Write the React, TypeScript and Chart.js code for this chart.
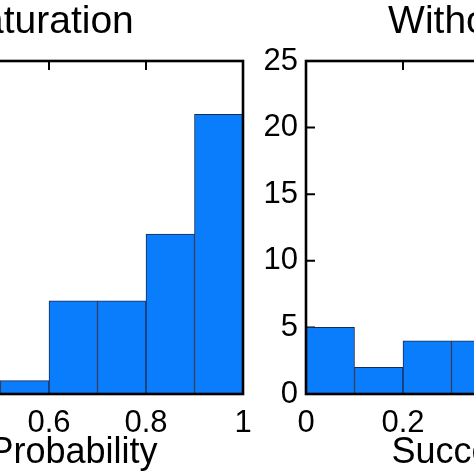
import React, { useEffect, useRef } from "react";
import { Chart, registerables } from "chart.js";

Chart.register(...registerables);

// ---- data ----
const binCenters = [0.05, 0.15, 0.25, 0.35, 0.45, 0.55, 0.65, 0.75, 0.85, 0.95];
// counts per bin (left panel bins below 0.5 are outside the visible crop)
const withSaturation = [0, 0, 0, 1, 1, 1, 7, 7, 12, 21];
// right panel bins above 0.4 are outside the visible crop
const withoutSaturation = [5, 2, 4, 4, 6, 5, 7, 6, 5, 6];
const xTickValues = [0, 0.2, 0.4, 0.6, 0.8, 1];
const xTickLabels = ["0", "0.2", "0.4", "0.6", "0.8", "1"];
const yTickValues = [0, 5, 10, 15, 20, 25];
const titles = ["With Saturation", "Without Saturation"];
const xAxisLabel = "Success Probability";
const yAxisLabel = "Count";

const FONT = "Arial, 'Liberation Sans', Helvetica, sans-serif";
const BAR_COLOR = "#0a7dfc";
const BAR_EDGE = "#1c2a50";

const decoPlugin = {
  id: "panelDeco",
  beforeDatasetsDraw(chart: any) {
    const { ctx, chartArea } = chart;
    const xs = chart.scales.x;
    const ys = chart.scales.y;
    const tl = 9;
    ctx.save();
    ctx.strokeStyle = "#000";
    ctx.lineWidth = 2;
    ctx.beginPath();
    xTickValues.forEach((v) => {
      const px = xs.getPixelForValue(v);
      ctx.moveTo(px, chartArea.top);
      ctx.lineTo(px, chartArea.top + tl);
      ctx.moveTo(px, chartArea.bottom);
      ctx.lineTo(px, chartArea.bottom - tl);
    });
    yTickValues.forEach((v) => {
      const py = ys.getPixelForValue(v);
      ctx.moveTo(chartArea.left, py);
      ctx.lineTo(chartArea.left + tl, py);
      ctx.moveTo(chartArea.right, py);
      ctx.lineTo(chartArea.right - tl, py);
    });
    ctx.stroke();
    ctx.restore();
  },
  afterDatasetsDraw(chart: any) {
    const { ctx, chartArea } = chart;
    ctx.save();
    ctx.strokeStyle = "#000";
    ctx.lineWidth = 2.6;
    ctx.strokeRect(
      chartArea.left,
      chartArea.top,
      chartArea.right - chartArea.left,
      chartArea.bottom - chartArea.top
    );
    ctx.restore();
  },
  afterDraw(chart: any, _args: any, opts: any) {
    const { ctx, chartArea } = chart;
    const cx = (chartArea.left + chartArea.right) / 2;
    ctx.save();
    ctx.fillStyle = "#000";
    ctx.textAlign = "center";
    ctx.textBaseline = "alphabetic";
    ctx.font = `39px ${FONT}`;
    ctx.fillText(opts.title, cx, 33);
    ctx.font = `36px ${FONT}`;
    ctx.fillText(opts.xlabel, cx, 463);
    ctx.restore();
  },
};

function makeConfig(counts: number[], title: string, yAxisWidth: number, padRight: number): any {
  return {
    type: "bar",
    data: {
      datasets: [
        {
          data: binCenters.map((c, i) => ({ x: c, y: counts[i] })),
          backgroundColor: BAR_COLOR,
          borderColor: BAR_EDGE,
          borderWidth: 1,
          borderSkipped: false,
          barPercentage: 1,
          categoryPercentage: 1,
        },
      ],
    },
    options: {
      animation: false,
      responsive: false,
      maintainAspectRatio: false,
      layout: { padding: { top: 61, right: padRight, left: 0, bottom: 0 } },
      plugins: {
        legend: { display: false },
        title: { display: false },
        tooltip: { enabled: false },
        panelDeco: { title, xlabel: xAxisLabel },
      },
      scales: {
        x: {
          type: "linear",
          min: 0,
          max: 1,
          offset: false,
          grid: { display: false, offset: false, drawTicks: false },
          border: { display: false },
          afterBuildTicks: (s: any) => {
            s.ticks = xTickValues.map((v) => ({ value: v }));
          },
          afterFit: (s: any) => {
            s.height = 80;
          },
          ticks: {
            padding: 11,
            maxRotation: 0,
            autoSkip: false,
            color: "#000",
            font: { family: FONT, size: 31 },
            callback: (v: any) => {
              const i = xTickValues.findIndex((t) => Math.abs(t - v) < 1e-9);
              return i >= 0 ? xTickLabels[i] : "";
            },
          },
        },
        y: {
          type: "linear",
          min: 0,
          max: 25,
          grid: { display: false, drawTicks: false },
          border: { display: false },
          title: { display: false, text: yAxisLabel },
          afterBuildTicks: (s: any) => {
            s.ticks = yTickValues.map((v) => ({ value: v }));
          },
          afterFit: (s: any) => {
            s.width = yAxisWidth;
          },
          ticks: {
            padding: 8,
            color: "#000",
            font: { family: FONT, size: 31 },
          },
        },
      },
    },
    plugins: [decoPlugin],
  };
}

function Panel(props: { counts: number[]; title: string; left: number; width: number; yAxisWidth: number; padRight: number }) {
  const ref = useRef<HTMLCanvasElement>(null);
  useEffect(() => {
    if (!ref.current) return;
    const chart = new Chart(ref.current, makeConfig(props.counts, props.title, props.yAxisWidth, props.padRight));
    return () => chart.destroy();
  }, []);
  return (
    <canvas
      ref={ref}
      width={props.width}
      height={474}
      style={{ position: "absolute", left: props.left, top: 0, width: props.width, height: 474 }}
    />
  );
}

export default function App() {
  return (
    <div
      style={{
        position: "fixed",
        left: 0,
        top: 0,
        width: 474,
        height: 474,
        overflow: "hidden",
        background: "#fff",
      }}
    >
      <Panel counts={withSaturation} title={titles[0]} left={-350} width={613} yAxisWidth={108} padRight={20} />
      <Panel counts={withoutSaturation} title={titles[1]} left={200} width={700} yAxisWidth={106} padRight={109} />
    </div>
  );
}
